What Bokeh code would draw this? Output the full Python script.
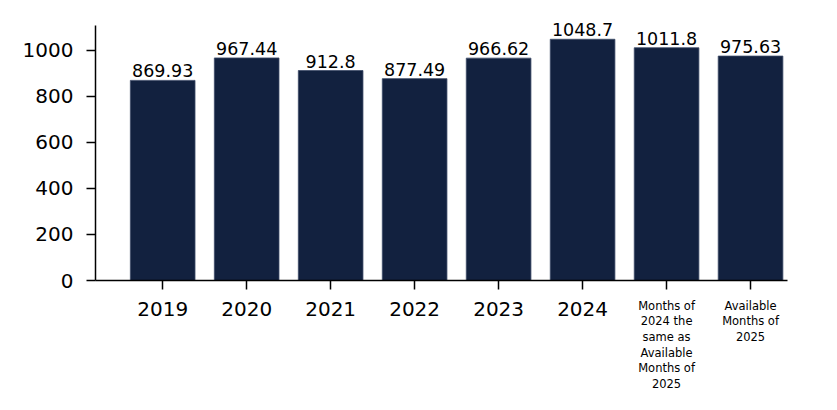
from bokeh.plotting import figure
from bokeh.models import ColumnDataSource, FixedTicker, Range1d, LinearAxis
from bokeh.core.properties import value
from bokeh.embed import file_html
from bokeh.resources import INLINE

# data
categories = ["2019", "2020", "2021", "2022", "2023", "2024",
              "Months of\n2024 the\nsame as\nAvailable\nMonths of\n2025",
              "Available\nMonths of\n2025"]
values = [869.93, 967.44, 912.8, 877.49, 966.62, 1048.7, 1011.8, 975.63]
value_labels = ["869.93", "967.44", "912.8", "877.49", "966.62", "1048.7", "1011.8", "975.63"]
y_ticks = [0, 200, 400, 600, 800, 1000]

FONT = "DejaVu Sans"
positions = list(range(len(categories)))

source = ColumnDataSource(data=dict(x=positions, top=values, label=value_labels))

# frame a bit taller than the axis so the top value label is not clipped
p = figure(width=821, height=394, output_backend="svg", toolbar_location=None,
           x_range=Range1d(-0.8, 7.44), y_range=Range1d(0, 1165),
           min_border_left=95, min_border_right=34, min_border_top=12, min_border_bottom=114)
p.outline_line_color = None
p.xgrid.visible = False
p.ygrid.visible = False

p.vbar(x="x", top="top", width=0.77, bottom=0, source=source,
       fill_color="#12213f", line_color="#3d4b68", line_width=0.8)

p.text(x="x", y="top", text="label", source=source, text_align="center",
       text_baseline="bottom", y_offset=-3, text_font=value(FONT),
       text_font_size="17.5px", text_color="black")

# x axis: years as normal tick labels
p.xaxis.ticker = FixedTicker(ticks=positions)
p.xaxis.major_label_overrides = {i: (c if i < 6 else "") for i, c in enumerate(categories)}
p.yaxis.ticker = FixedTicker(ticks=y_ticks)
p.yaxis.bounds = (0, 1108)

for ax in (p.xaxis[0], p.yaxis[0]):
    ax.axis_line_width = 1.5
    ax.axis_line_color = "black"
    ax.major_tick_line_width = 1.5
    ax.major_tick_line_color = "black"
    ax.major_tick_in = 0
    ax.major_tick_out = 9
    ax.minor_tick_line_color = None
    ax.major_label_text_font = FONT
    ax.major_label_text_font_size = "20px"
    ax.major_label_text_color = "black"
p.yaxis.major_label_standoff = 13
p.xaxis.major_label_standoff = 12

# second axis for the long, small labels, pulled up beside the years
small_axis = LinearAxis(ticker=FixedTicker(ticks=positions),
                        major_label_overrides={i: (c if i >= 6 else "") for i, c in enumerate(categories)})
small_axis.axis_line_color = None
small_axis.major_tick_line_color = None
small_axis.minor_tick_line_color = None
small_axis.major_tick_in = 0
small_axis.major_tick_out = 0
small_axis.major_label_standoff = -20
small_axis.major_label_text_font = FONT
small_axis.major_label_text_font_size = "11.5px"
small_axis.major_label_text_line_height = 1.12
small_axis.major_label_text_color = "black"
p.add_layout(small_axis, "below")

open("out.html", "w").write(file_html(p, INLINE))
